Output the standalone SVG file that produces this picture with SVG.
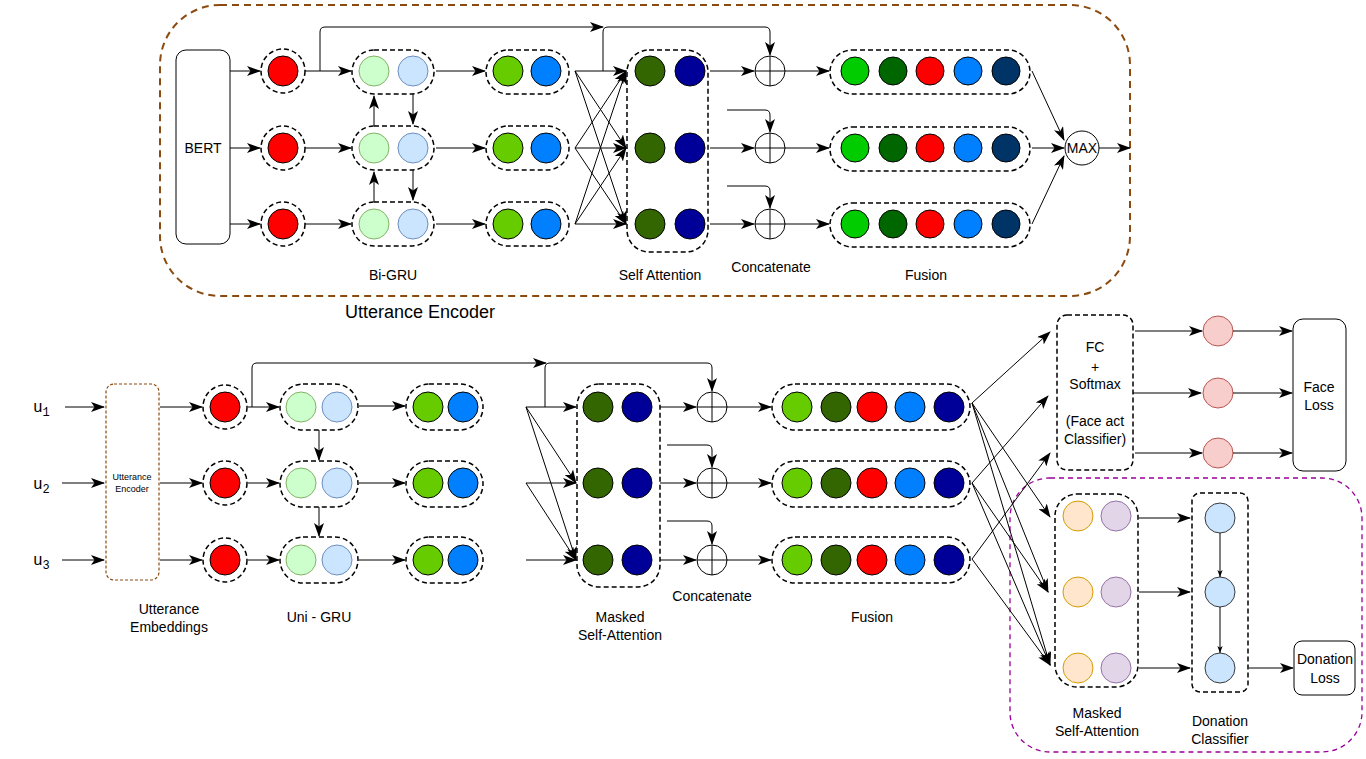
<svg xmlns="http://www.w3.org/2000/svg" width="1366" height="759" viewBox="0 0 1366 759">
<defs>
<marker id="a" viewBox="0 0 14 10" refX="13" refY="5" markerWidth="14" markerHeight="10" markerUnits="userSpaceOnUse" orient="auto"><path d="M0,0 L14,5 L0,10 L3.5,5 Z" fill="#000"/></marker>
<marker id="s" viewBox="0 0 8 6" refX="8" refY="3" markerWidth="7" markerHeight="6" markerUnits="userSpaceOnUse" orient="auto"><path d="M0,0 L8,3 L0,6 L2,3 Z" fill="#000"/></marker>
<style>
.t{font-family:"Liberation Sans",Arial,sans-serif;font-size:14px;text-anchor:middle;fill:#000}
.d{fill:none;stroke:#000;stroke-width:1.5;stroke-dasharray:5,3}
.l path{fill:none;stroke:#000;stroke-width:1;marker-end:url(#a)}
.l path.n{marker-end:none}
.l path.sm{marker-end:url(#s)}
.x{fill:none;stroke:#000;stroke-width:1}
.c{stroke:#000;stroke-width:1}
.r{fill:#ff0000}.lg{fill:#ccffcc;stroke:#82b366}.lb{fill:#cce5ff;stroke:#6c8ebf}
.g{fill:#66cc00}.b{fill:#007fff}.dg{fill:#336600}.nv{fill:#000099}
.pl{fill:#fff;stroke:#000;stroke-width:1}
</style>
</defs>
<rect x="160" y="5" width="970" height="291" rx="60" fill="none" stroke="#8b4a0f" stroke-width="2" stroke-dasharray="7,5"/>
<text class="t" x="420" y="318" style="font-size:18px">Utterance Encoder</text>
<g id="bert"><rect x="176" y="50" width="54" height="194" rx="10" class="pl"/><text class="t" x="203" y="153">BERT</text></g>
<g id="top-emb">
<circle cx="283" cy="71" r="22" class="d" stroke-width="1.2"/><circle cx="283" cy="71" r="15" class="c r"/>
<circle cx="283" cy="148" r="22" class="d" stroke-width="1.2"/><circle cx="283" cy="148" r="15" class="c r"/>
<circle cx="283" cy="224" r="22" class="d" stroke-width="1.2"/><circle cx="283" cy="224" r="15" class="c r"/>
</g>
<g id="bigru">
<rect x="352" y="50" width="82" height="44" rx="22" class="d"/><circle cx="374" cy="71" r="15" class="lg"/><circle cx="413" cy="71" r="15" class="lb"/>
<rect x="352" y="126" width="82" height="44" rx="22" class="d"/><circle cx="374" cy="148" r="15" class="lg"/><circle cx="413" cy="148" r="15" class="lb"/>
<rect x="352" y="202" width="82" height="44" rx="22" class="d"/><circle cx="374" cy="224" r="15" class="lg"/><circle cx="413" cy="224" r="15" class="lb"/>
</g>
<g id="top-gb">
<rect x="486" y="50" width="83" height="44" rx="22" class="d"/><circle cx="508" cy="71" r="15" class="c g"/><circle cx="546" cy="71" r="15" class="c b"/>
<rect x="486" y="126" width="83" height="44" rx="22" class="d"/><circle cx="508" cy="148" r="15" class="c g"/><circle cx="546" cy="148" r="15" class="c b"/>
<rect x="486" y="202" width="83" height="44" rx="22" class="d"/><circle cx="508" cy="224" r="15" class="c g"/><circle cx="546" cy="224" r="15" class="c b"/>
</g>
<g id="top-sa">
<rect x="627" y="50" width="81" height="202" rx="22" class="d"/>
<circle cx="650" cy="71" r="15" class="c dg"/><circle cx="690" cy="71" r="15" class="c nv"/>
<circle cx="650" cy="148" r="15" class="c dg"/><circle cx="690" cy="148" r="15" class="c nv"/>
<circle cx="650" cy="224" r="15" class="c dg"/><circle cx="690" cy="224" r="15" class="c nv"/>
</g>
<g id="top-cat">
<circle cx="770" cy="71" r="15" class="pl"/><path d="M755,71H785M770,56V86" class="x"/>
<circle cx="770" cy="148" r="15" class="pl"/><path d="M755,148H785M770,133V163" class="x"/>
<circle cx="770" cy="224" r="15" class="pl"/><path d="M755,224H785M770,209V239" class="x"/>
</g>
<g id="top-fusion">
<rect x="830" y="50" width="200" height="44" rx="22" class="d"/>
<circle cx="855" cy="71" r="14" class="c" fill="#00cc00"/><circle cx="893" cy="71" r="14" class="c" fill="#006600"/><circle cx="930" cy="71" r="14" class="c r"/><circle cx="968" cy="71" r="14" class="c b"/><circle cx="1006" cy="71" r="14" class="c" fill="#003366"/>
<rect x="830" y="127" width="200" height="44" rx="22" class="d"/>
<circle cx="855" cy="148" r="14" class="c" fill="#00cc00"/><circle cx="893" cy="148" r="14" class="c" fill="#006600"/><circle cx="930" cy="148" r="14" class="c r"/><circle cx="968" cy="148" r="14" class="c b"/><circle cx="1006" cy="148" r="14" class="c" fill="#003366"/>
<rect x="830" y="203" width="200" height="44" rx="22" class="d"/>
<circle cx="855" cy="224" r="14" class="c" fill="#00cc00"/><circle cx="893" cy="224" r="14" class="c" fill="#006600"/><circle cx="930" cy="224" r="14" class="c r"/><circle cx="968" cy="224" r="14" class="c b"/><circle cx="1006" cy="224" r="14" class="c" fill="#003366"/>
</g>
<g id="max"><circle cx="1082" cy="148" r="17" class="pl"/><text class="t" x="1082" y="153">MAX</text></g>
<g id="top-labels">
<text class="t" x="393" y="280">Bi-GRU</text><text class="t" x="660" y="280">Self Attention</text><text class="t" x="771" y="272">Concatenate</text><text class="t" x="926" y="280">Fusion</text>
</g>

<g id="top-connectors" class="l">
<path d="M230,71H260"/><path d="M230,148H260"/><path d="M230,224H260"/>
<path d="M305,71H351"/><path d="M305,148H351"/><path d="M305,224H351"/>
<path d="M320,71V32Q320,27 325,27H603"/>
<path d="M374,126V96"/><path d="M374,202V172"/><path d="M413,94V124"/><path d="M413,170V200"/>
<path d="M436,71H485"/><path d="M436,148H485"/><path d="M436,224H485"/>
<path d="M575,71L626,71"/><path d="M575,71L626,148"/><path d="M575,71L626,224"/>
<path d="M575,148L626,71"/><path d="M575,148L626,148"/><path d="M575,148L626,224"/>
<path d="M575,224L626,71"/><path d="M575,224L626,148"/><path d="M575,224L626,224"/>
<path d="M603,71V32Q603,27 608,27H765Q770,27 770,32V55"/>
<path d="M727,110H765Q770,110 770,115V132"/><path d="M727,186H765Q770,186 770,191V208"/>
<path d="M710,71H754"/><path d="M710,148H754"/><path d="M710,224H754"/>
<path d="M785,71H829"/><path d="M785,148H829"/><path d="M785,224H829"/>
<path d="M1032,71L1064,140"/><path d="M1032,148L1064,148"/><path d="M1032,224L1064,156"/>
<path d="M1099,148H1130"/>
</g>

<g id="inputs" style="font-family:'Liberation Mono',monospace;font-size:16px">
<text x="33" y="412">u<tspan font-size="12" dy="4">1</tspan></text>
<text x="33" y="489">u<tspan font-size="12" dy="4">2</tspan></text>
<text x="33" y="565">u<tspan font-size="12" dy="4">3</tspan></text>
</g>
<g id="utt-enc"><rect x="106" y="384" width="53" height="196" rx="8" fill="none" stroke="#8b4a0f" stroke-width="1.2" stroke-dasharray="3,2"/>
<text class="t" x="132" y="480" style="font-size:9px">Utterance</text><text class="t" x="132" y="492" style="font-size:9px">Encoder</text></g>
<g id="bot-emb">
<circle cx="225" cy="407" r="22" class="d" stroke-width="1.2"/><circle cx="225" cy="407" r="15" class="c r"/>
<circle cx="225" cy="483" r="22" class="d" stroke-width="1.2"/><circle cx="225" cy="483" r="15" class="c r"/>
<circle cx="225" cy="560" r="22" class="d" stroke-width="1.2"/><circle cx="225" cy="560" r="15" class="c r"/>
</g>
<g id="unigru">
<rect x="280" y="384" width="78" height="46" rx="23" class="d"/><circle cx="301" cy="407" r="15" class="lg"/><circle cx="337" cy="407" r="15" class="lb"/>
<rect x="280" y="461" width="78" height="46" rx="23" class="d"/><circle cx="301" cy="483" r="15" class="lg"/><circle cx="337" cy="483" r="15" class="lb"/>
<rect x="280" y="537" width="78" height="46" rx="23" class="d"/><circle cx="301" cy="560" r="15" class="lg"/><circle cx="337" cy="560" r="15" class="lb"/>
</g>
<g id="bot-gb">
<rect x="406" y="384" width="77" height="46" rx="23" class="d"/><circle cx="428" cy="407" r="15" class="c g"/><circle cx="463" cy="407" r="15" class="c b"/>
<rect x="406" y="461" width="77" height="46" rx="23" class="d"/><circle cx="428" cy="483" r="15" class="c g"/><circle cx="463" cy="483" r="15" class="c b"/>
<rect x="406" y="537" width="77" height="46" rx="23" class="d"/><circle cx="428" cy="560" r="15" class="c g"/><circle cx="463" cy="560" r="15" class="c b"/>
</g>
<g id="bot-sa">
<rect x="577" y="384" width="83" height="203" rx="22" class="d"/>
<circle cx="598" cy="407" r="15" class="c dg"/><circle cx="637" cy="407" r="15" class="c nv"/>
<circle cx="598" cy="483" r="15" class="c dg"/><circle cx="637" cy="483" r="15" class="c nv"/>
<circle cx="598" cy="560" r="15" class="c dg"/><circle cx="637" cy="560" r="15" class="c nv"/>
</g>
<g id="bot-cat">
<circle cx="712" cy="407" r="15" class="pl"/><path d="M697,407H727M712,392V422" class="x"/>
<circle cx="712" cy="483" r="15" class="pl"/><path d="M697,483H727M712,468V498" class="x"/>
<circle cx="712" cy="560" r="15" class="pl"/><path d="M697,560H727M712,545V575" class="x"/>
</g>
<g id="bot-fusion">
<rect x="772" y="384" width="198" height="46" rx="23" class="d"/>
<circle cx="797" cy="407" r="15" class="c g"/><circle cx="836" cy="407" r="15" class="c dg"/><circle cx="872" cy="407" r="15" class="c r"/><circle cx="910" cy="407" r="15" class="c b"/><circle cx="949" cy="407" r="15" class="c nv"/>
<rect x="772" y="461" width="198" height="46" rx="23" class="d"/>
<circle cx="797" cy="483" r="15" class="c g"/><circle cx="836" cy="483" r="15" class="c dg"/><circle cx="872" cy="483" r="15" class="c r"/><circle cx="910" cy="483" r="15" class="c b"/><circle cx="949" cy="483" r="15" class="c nv"/>
<rect x="772" y="537" width="198" height="46" rx="23" class="d"/>
<circle cx="797" cy="560" r="15" class="c g"/><circle cx="836" cy="560" r="15" class="c dg"/><circle cx="872" cy="560" r="15" class="c r"/><circle cx="910" cy="560" r="15" class="c b"/><circle cx="949" cy="560" r="15" class="c nv"/>
</g>
<g id="fc"><rect x="1057" y="315" width="76" height="155" rx="10" class="d"/>
<text class="t" x="1095" y="352">FC</text><text class="t" x="1095" y="372">+</text><text class="t" x="1095" y="389">Softmax</text><text class="t" x="1095" y="426">(Face act</text><text class="t" x="1095" y="444">Classifier)</text></g>
<g id="face-out">
<circle cx="1218" cy="331" r="15" fill="#f8cecc" stroke="#b85450"/><circle cx="1218" cy="393" r="15" fill="#f8cecc" stroke="#b85450"/><circle cx="1218" cy="453" r="15" fill="#f8cecc" stroke="#b85450"/>
</g>
<g id="face-loss"><rect x="1293" y="319" width="53" height="152" rx="10" class="pl"/><text class="t" x="1319" y="392">Face</text><text class="t" x="1319" y="410">Loss</text></g>
<rect x="1010" y="478" width="352" height="274" rx="40" fill="none" stroke="#990099" stroke-width="1.3" stroke-dasharray="5,4"/>
<g id="sa2"><rect x="1055" y="494" width="83" height="193" rx="22" class="d"/>
<circle cx="1078" cy="516" r="15" fill="#ffe6cc" stroke="#d79b00"/><circle cx="1116" cy="516" r="15" fill="#e1d5e7" stroke="#9673a6"/>
<circle cx="1078" cy="592" r="15" fill="#ffe6cc" stroke="#d79b00"/><circle cx="1116" cy="592" r="15" fill="#e1d5e7" stroke="#9673a6"/>
<circle cx="1078" cy="668" r="15" fill="#ffe6cc" stroke="#d79b00"/><circle cx="1116" cy="668" r="15" fill="#e1d5e7" stroke="#9673a6"/>
</g>
<g id="donation-classifier"><rect x="1192" y="493" width="56" height="199" rx="8" class="d"/>
<circle cx="1220" cy="518" r="15" fill="#cce5ff" stroke="#36393d"/><circle cx="1220" cy="592" r="15" fill="#cce5ff" stroke="#36393d"/><circle cx="1220" cy="668" r="15" fill="#cce5ff" stroke="#36393d"/></g>
<g id="donation-loss"><rect x="1294" y="641" width="61" height="54" rx="8" class="pl"/><text class="t" x="1325" y="664">Donation</text><text class="t" x="1325" y="683">Loss</text></g>
<g id="bot-labels">
<text class="t" x="169" y="614">Utterance</text><text class="t" x="169" y="632">Embeddings</text>
<text class="t" x="319" y="622">Uni - GRU</text>
<text class="t" x="620" y="622">Masked</text><text class="t" x="620" y="640">Self-Attention</text>
<text class="t" x="712" y="601">Concatenate</text>
<text class="t" x="872" y="622">Fusion</text>
<text class="t" x="1097" y="718">Masked</text><text class="t" x="1097" y="736">Self-Attention</text>
<text class="t" x="1220" y="726">Donation</text><text class="t" x="1220" y="744">Classifier</text>
</g>
<g id="bot-connectors" class="l">
<path d="M65,407H104"/><path d="M62,483H104"/><path d="M62,560H104"/>
<path d="M160,407H202"/><path d="M160,483H202"/><path d="M160,560H202"/>
<path d="M248,407H279"/><path d="M248,483H279"/><path d="M248,560H279"/>
<path d="M252,407V368Q252,363 257,363H546"/>
<path d="M319,430V460"/><path d="M319,507V536"/>
<path d="M359,406H405"/><path d="M359,483H405"/><path d="M359,560H405"/>
<path d="M526,407L576,407"/><path d="M526,407L576,483"/><path d="M526,407L576,560"/>
<path d="M526,483L576,483"/><path d="M526,483L576,560"/><path d="M526,560L576,560"/>
<path d="M545,407V368Q545,363 550,363H707Q712,363 712,368V391"/>
<path d="M667,445H707Q712,445 712,450V467"/><path d="M667,521H707Q712,521 712,526V544"/>
<path d="M660,407H696"/><path d="M660,483H696"/><path d="M660,560H696"/>
<path d="M727,407H771"/><path d="M727,483H771"/><path d="M727,560H771"/>
<path d="M972,403L1050,332"/><path d="M972,483L1048,396"/><path d="M972,559L1050,453"/>
<path d="M972,403L1050,517"/><path d="M972,403L1048,592"/><path d="M972,403L1050,665"/>
<path d="M972,483L1048,592"/><path d="M972,483L1050,665"/><path d="M972,559L1050,665"/>
<path d="M1135,331H1202"/><path d="M1133,393H1201"/><path d="M1135,453H1202"/>
<path d="M1233,331H1292"/><path d="M1233,393H1292"/><path d="M1233,453H1292"/>
<path d="M1139,518H1190"/><path d="M1139,592H1190"/><path d="M1139,668H1190"/>
<path class="sm" d="M1220,533V577"/><path class="sm" d="M1220,607V653"/>
<path d="M1249,668H1293"/>
</g>
</svg>
